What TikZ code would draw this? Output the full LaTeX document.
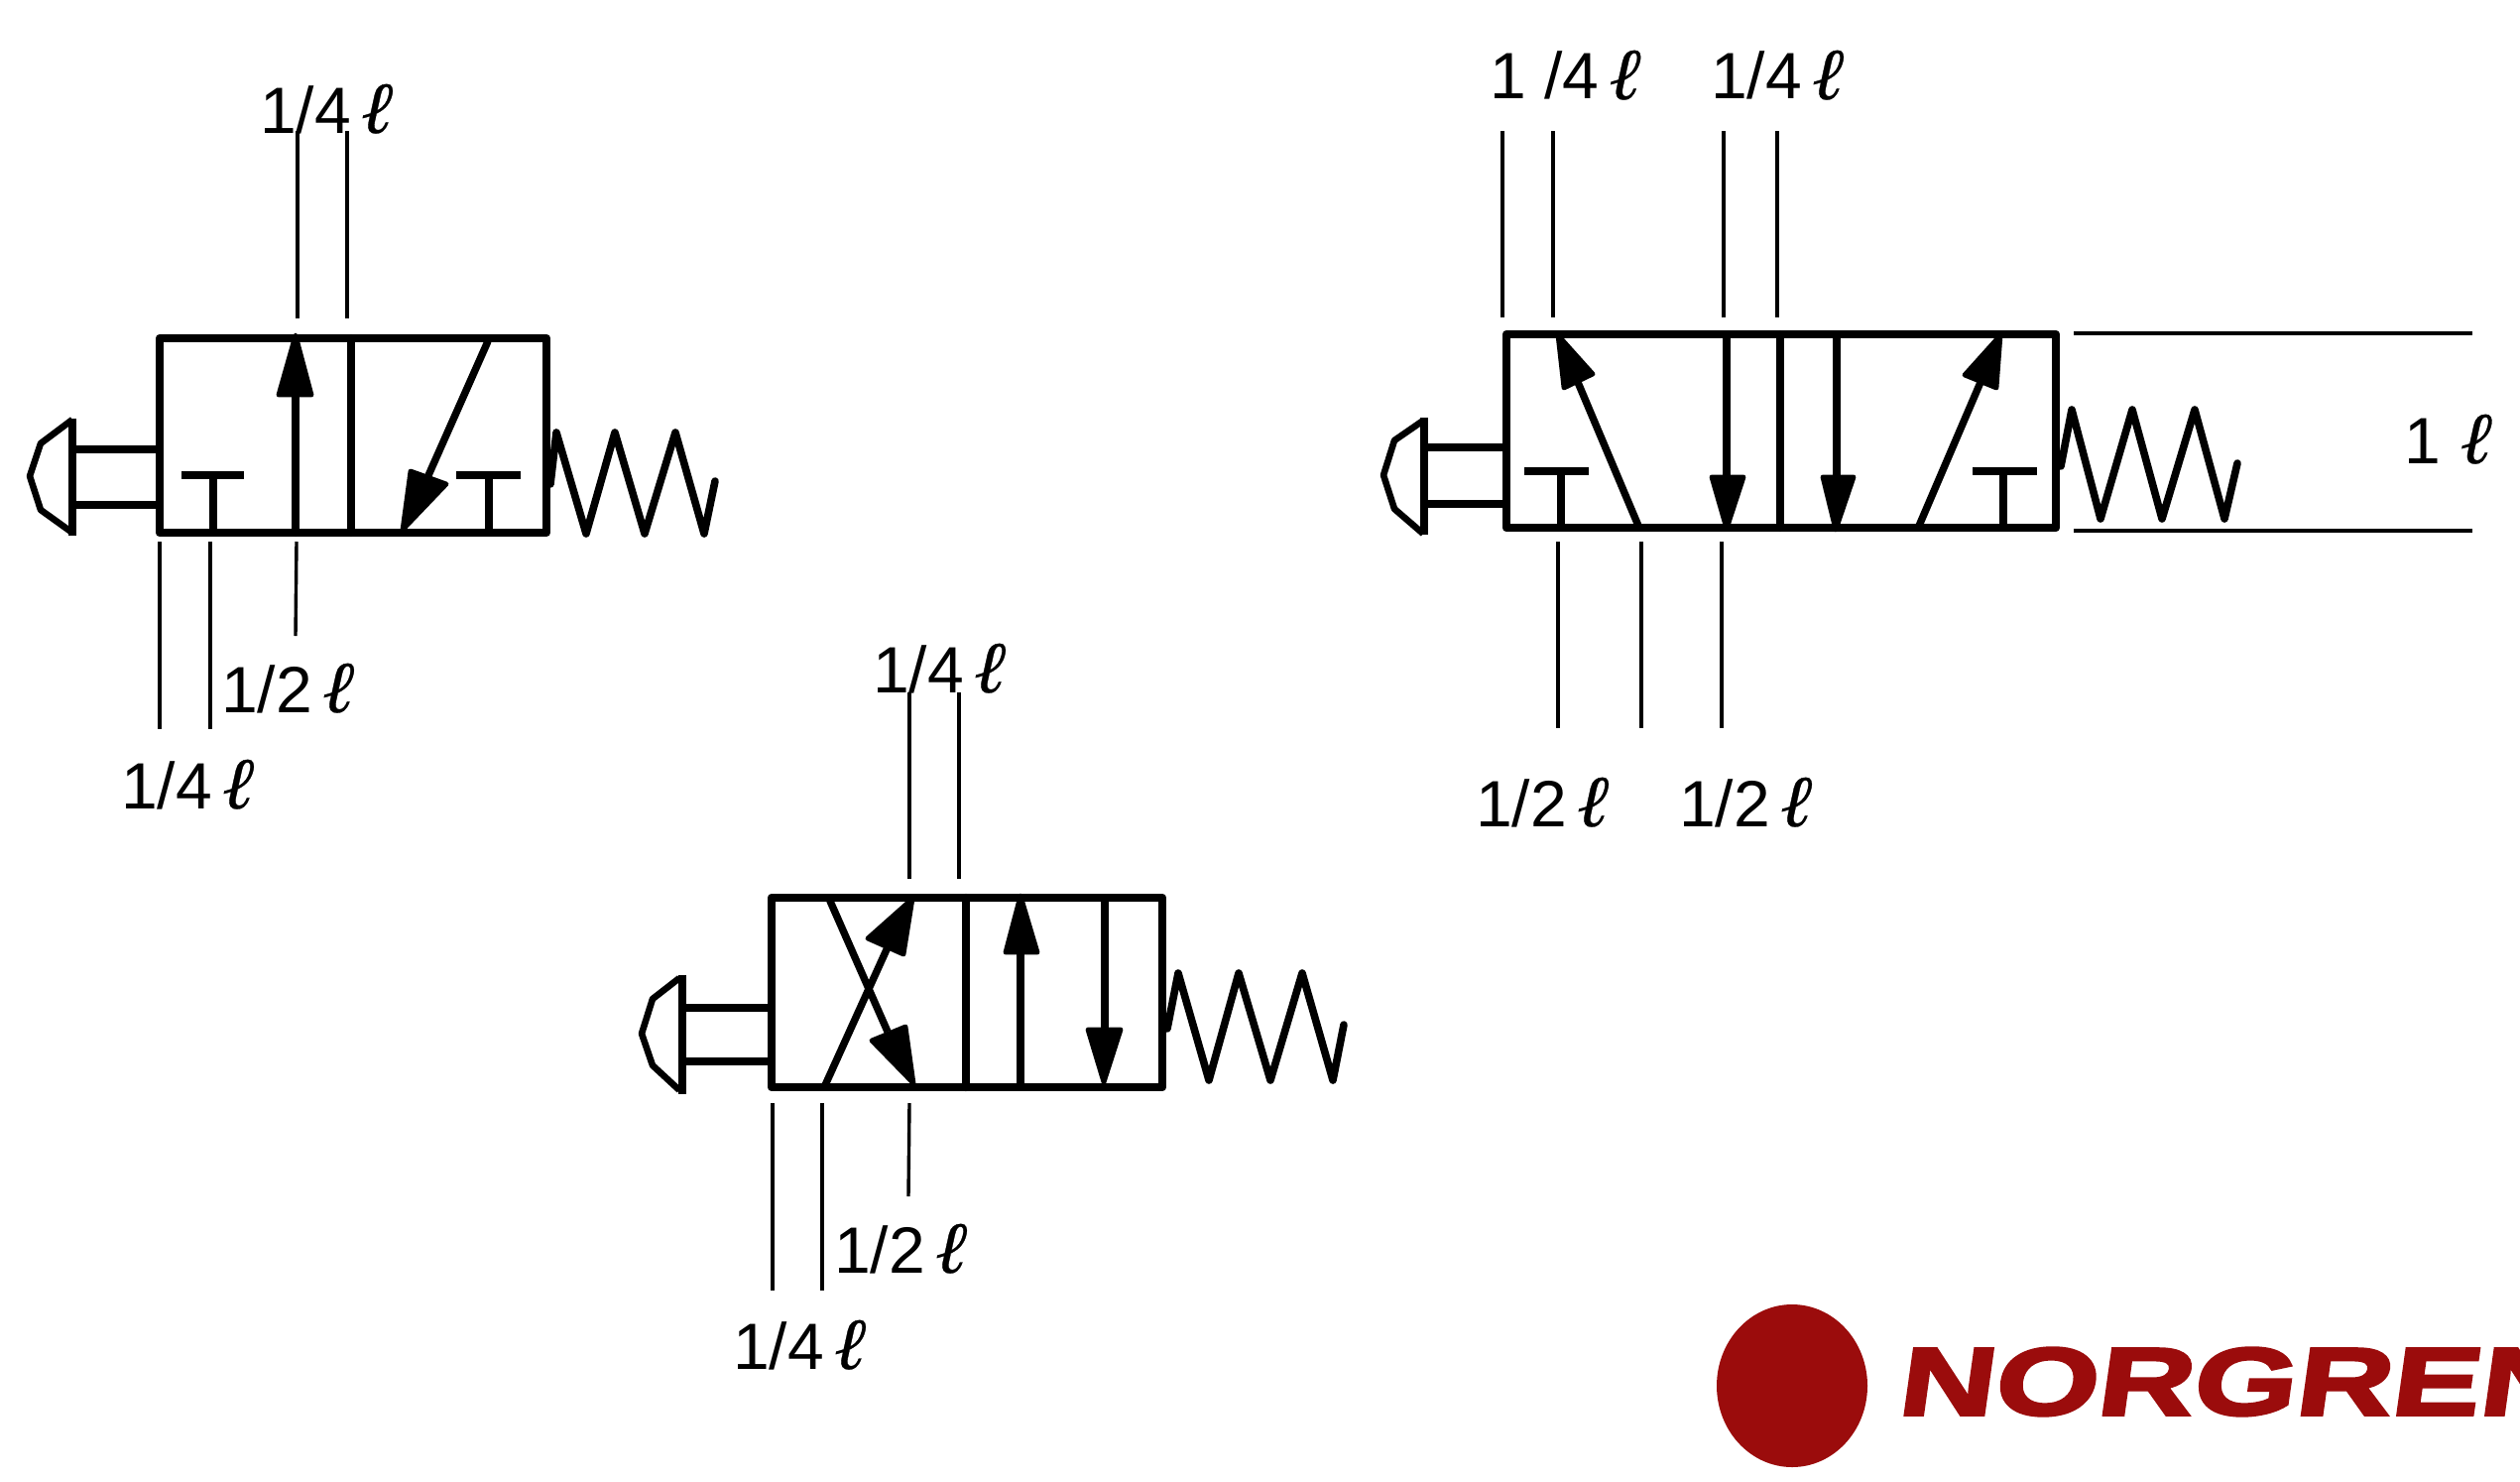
\documentclass[tikz,border=0pt]{standalone}
\usepackage{fontspec}
\setmainfont{Liberation Sans}
\newfontfamily\logofont[FakeSlant=0.14,FakeStretch=1.39,FakeBold=3.6]{Liberation Sans Bold}
\newfontfamily\ellfont[FakeSlant=0.22,FakeBold=0.4]{Liberation Serif}
\definecolor{logored}{HTML}{9B0C0C}
\newcommand{\ellmark}{{\ellfont\fontsize{37}{38}\selectfont\kern-7pt ℓ}}
\tikzset{
  x=0.5pt,y=-0.5pt,
  valve/.style={draw=black,line width=4.2pt,line join=round,line cap=round},
  stem/.style={draw=black,line width=3.7pt},
  lead/.style={draw=black,line width=1.7pt},
  tiphead/.style={draw=black,fill=black,line width=2.4pt,line join=round},
  spring/.style={draw=black,line width=3.8pt,line join=round,line cap=round},
  knob/.style={draw=black,line width=3.3pt,line join=round},
  size/.style={anchor=base west,inner sep=0pt,outer sep=0pt,font=\fontsize{33}{40}\selectfont},
}
\begin{document}
\begin{tikzpicture}
\useasboundingbox (0,0) rectangle (2541,1493);
\fill[white] (0,0) rectangle (2541,1493);

% ---------- valve 1 ----------
\draw[valve] (161,341) rectangle (551,537);
\draw[valve] (354,341) -- (354,537);
\draw[stem] (73,453) -- (160,453);
\draw[stem] (73,509) -- (160,509);
\draw[valve,line cap=butt] (73,422) -- (73,540);
\draw[knob] (73,423) -- (41,447) -- (30,480) -- (41,514) -- (73,537);
\draw[stem] (183,479) -- (246,479);
\draw[stem] (215,479) -- (215,537);
\draw[valve] (298,537) -- (298,398);
\fill[tiphead] (298,338) -- (281,398) -- (314,398) -- cycle;
\draw[stem] (492,344) -- (425,495);
\fill[tiphead] (406,534) -- (414,475) -- (450,488) -- cycle;
\draw[stem] (460,479) -- (525,479);
\draw[stem] (493,479) -- (493,537);
\draw[spring] (555,488) -- (561,436) -- (591,538) -- (620,436) -- (650,538) -- (681,436) -- (710,538) -- (721,485);
\draw[lead] (300,132) -- (300,321);
\draw[lead] (350,132) -- (350,321);
\draw[lead] (161,546) -- (161,735);
\draw[lead] (212,546) -- (212,735);
\draw[lead] (299,546) -- (298,641);
\node[size] (a1) at (262,134) {1/4 \ellmark};
\node[size] (a2) at (223,718) {1/2 \ellmark};
\node[size] (a3) at (122,815) {1/4 \ellmark};

% ---------- valve 3 ----------
\draw[valve] (778,905) rectangle (1172,1096);
\draw[valve] (974,905) -- (974,1096);
\draw[stem] (688,1016) -- (778,1016);
\draw[stem] (688,1070) -- (778,1070);
\draw[valve,line cap=butt] (688,983) -- (688,1103);
\draw[knob] (685,986) -- (658,1007) -- (647,1042) -- (658,1074) -- (685,1099);
\draw[stem] (836,906) -- (895,1040);
\fill[tiphead] (921,1092) -- (879,1049) -- (913,1035) -- cycle;
\draw[stem] (832,1094) -- (895,955);
\fill[tiphead] (920,906) -- (875,946) -- (911,962) -- cycle;
\draw[stem] (1029,1094) -- (1029,960);
\fill[tiphead] (1029,903) -- (1014,960) -- (1046,960) -- cycle;
\draw[stem] (1114,906) -- (1114,1038);
\fill[tiphead] (1113,1091) -- (1097,1038) -- (1130,1038) -- cycle;
\draw[spring] (1177,1037) -- (1188,981) -- (1219,1089) -- (1249,981) -- (1281,1089) -- (1313,981) -- (1344,1089) -- (1355,1033);
\draw[lead] (917,698) -- (917,886);
\draw[lead] (967,698) -- (967,886);
\draw[lead] (779,1112) -- (779,1301);
\draw[lead] (829,1112) -- (829,1301);
\draw[lead] (917,1112) -- (916,1206);
\node[size] (b1) at (880,698) {1/4 \ellmark};
\node[size] (b2) at (841,1283) {1/2 \ellmark};
\node[size] (b3) at (739,1380) {1/4 \ellmark};

% ---------- valve 2 ----------
\draw[valve] (1519,337) rectangle (2073,532);
\draw[valve] (1795,337) -- (1795,532);
\draw[stem] (1437,451) -- (1517,451);
\draw[stem] (1437,508) -- (1517,508);
\draw[valve,line cap=butt] (1436,421) -- (1436,539);
\draw[knob] (1435,424) -- (1406,444) -- (1395,479) -- (1406,513) -- (1435,538);
\draw[stem] (1537,475) -- (1602,475);
\draw[stem] (1574,475) -- (1574,532);
\draw[stem] (1652,530) -- (1590,383);
\fill[tiphead] (1571,338) -- (1577,391) -- (1606,377) -- cycle;
\draw[stem] (1741,340) -- (1741,481);
\fill[tiphead] (1741,533) -- (1726,481) -- (1758,481) -- cycle;
\draw[stem] (1852,340) -- (1852,481);
\fill[tiphead] (1851,534) -- (1838,481) -- (1869,481) -- cycle;
\draw[stem] (1935,530) -- (1998,383);
\fill[tiphead] (2017,338) -- (1981,378) -- (2013,391) -- cycle;
\draw[stem] (1989,475) -- (2054,475);
\draw[stem] (2020,475) -- (2020,532);
\draw[spring] (2078,470) -- (2089,413) -- (2118,523) -- (2150,413) -- (2180,523) -- (2213,413) -- (2243,523) -- (2256,467);
\draw[lead] (1515,132) -- (1515,320);
\draw[lead] (1566,132) -- (1566,320);
\draw[lead] (1738,132) -- (1738,320);
\draw[lead] (1792,132) -- (1792,320);
\draw[lead] (1571,546) -- (1571,734);
\draw[lead] (1655,546) -- (1655,734);
\draw[lead] (1736,546) -- (1736,734);
\draw[lead] (2091,336) -- (2493,336);
\draw[lead] (2091,535) -- (2493,535);
\node[size] (c1) at (1502,100) {1 /4 \ellmark};
\node[size] (c2) at (1725,100) {1/4 \ellmark};
\node[size] (c3) at (1488,833) {1/2 \ellmark};
\node[size] (c4) at (1693,833) {1/2 \ellmark};
\node[size] (c5) at (2424,467) {1\hspace{14pt}\ellmark};

% ---------- logo ----------
\fill[logored] (1807,1397) ellipse [x radius=76,y radius=82];
\begin{scope}
\clip (0,0) rectangle (2541,1493);
\node[anchor=base west,inner sep=0pt,text=logored,font=\logofont\fontsize{48}{56}\selectfont] (logo) at (1912,1426) {NORGREN};
\end{scope}
\end{tikzpicture}
\end{document}
